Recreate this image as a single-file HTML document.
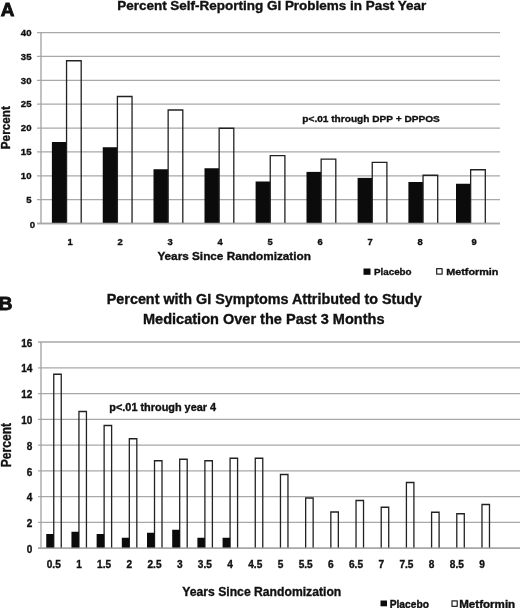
<!DOCTYPE html>
<html><head><meta charset="utf-8"><title>GI problems chart</title>
<style>
html,body{margin:0;padding:0;background:#fff;}
body{width:520px;height:608px;overflow:hidden;}
svg{display:block;}
text{font-family:'Liberation Sans', Arial, sans-serif;font-weight:bold;fill:#111;stroke:#111;stroke-width:0.35px;}
</style></head><body>
<svg width="520" height="608" viewBox="0 0 520 608">
<rect x="0" y="0" width="520" height="608" fill="#fff"/>
<line x1="37.00" y1="223.50" x2="500.00" y2="223.50" stroke="#a8a8a8" stroke-width="1.3"/>
<line x1="37.00" y1="199.64" x2="500.00" y2="199.64" stroke="#a8a8a8" stroke-width="1.3"/>
<line x1="37.00" y1="175.78" x2="500.00" y2="175.78" stroke="#a8a8a8" stroke-width="1.3"/>
<line x1="37.00" y1="151.91" x2="500.00" y2="151.91" stroke="#a8a8a8" stroke-width="1.3"/>
<line x1="37.00" y1="128.05" x2="500.00" y2="128.05" stroke="#a8a8a8" stroke-width="1.3"/>
<line x1="37.00" y1="104.19" x2="500.00" y2="104.19" stroke="#a8a8a8" stroke-width="1.3"/>
<line x1="37.00" y1="80.32" x2="500.00" y2="80.32" stroke="#a8a8a8" stroke-width="1.3"/>
<line x1="37.00" y1="56.46" x2="500.00" y2="56.46" stroke="#a8a8a8" stroke-width="1.3"/>
<line x1="37.00" y1="32.60" x2="500.00" y2="32.60" stroke="#a8a8a8" stroke-width="1.3"/>
<line x1="41.00" y1="32.60" x2="41.00" y2="223.50" stroke="#a0a0a0" stroke-width="1.3"/>
<text x="35.20" y="228.00" font-size="9.6" text-anchor="end">0</text>
<text x="31.50" y="202.84" font-size="9.6" text-anchor="end">5</text>
<text x="31.50" y="178.97" font-size="9.6" text-anchor="end">10</text>
<text x="31.50" y="155.11" font-size="9.6" text-anchor="end">15</text>
<text x="31.50" y="131.25" font-size="9.6" text-anchor="end">20</text>
<text x="31.50" y="107.39" font-size="9.6" text-anchor="end">25</text>
<text x="31.50" y="83.52" font-size="9.6" text-anchor="end">30</text>
<text x="31.50" y="59.66" font-size="9.6" text-anchor="end">35</text>
<text x="31.50" y="35.80" font-size="9.6" text-anchor="end">40</text>
<rect x="51.90" y="142.00" width="14.65" height="81.50" fill="#0b0b0b"/>
<path d="M66.55 223.50V60.75H81.20V223.50" fill="none" stroke="#222" stroke-width="1.3"/>
<rect x="102.75" y="147.25" width="14.65" height="76.25" fill="#0b0b0b"/>
<path d="M117.40 223.50V96.50H132.05V223.50" fill="none" stroke="#222" stroke-width="1.3"/>
<rect x="153.50" y="169.25" width="14.65" height="54.25" fill="#0b0b0b"/>
<path d="M168.15 223.50V110.00H182.80V223.50" fill="none" stroke="#222" stroke-width="1.3"/>
<rect x="204.50" y="168.25" width="14.65" height="55.25" fill="#0b0b0b"/>
<path d="M219.15 223.50V128.25H233.80V223.50" fill="none" stroke="#222" stroke-width="1.3"/>
<rect x="255.60" y="181.50" width="14.65" height="42.00" fill="#0b0b0b"/>
<path d="M270.25 223.50V155.70H284.90V223.50" fill="none" stroke="#222" stroke-width="1.3"/>
<rect x="306.50" y="171.90" width="14.65" height="51.60" fill="#0b0b0b"/>
<path d="M321.15 223.50V159.20H335.80V223.50" fill="none" stroke="#222" stroke-width="1.3"/>
<rect x="357.60" y="177.90" width="14.65" height="45.60" fill="#0b0b0b"/>
<path d="M372.25 223.50V162.40H386.90V223.50" fill="none" stroke="#222" stroke-width="1.3"/>
<rect x="408.40" y="182.00" width="14.65" height="41.50" fill="#0b0b0b"/>
<path d="M423.05 223.50V175.25H437.70V223.50" fill="none" stroke="#222" stroke-width="1.3"/>
<rect x="456.00" y="183.75" width="14.65" height="39.75" fill="#0b0b0b"/>
<path d="M470.65 223.50V169.75H485.30V223.50" fill="none" stroke="#222" stroke-width="1.3"/>
<line x1="37.00" y1="223.50" x2="500.00" y2="223.50" stroke="#a8a8a8" stroke-width="1.3"/>
<text x="70.00" y="244.60" font-size="9.4" text-anchor="middle">1</text>
<text x="120.00" y="244.60" font-size="9.4" text-anchor="middle">2</text>
<text x="170.00" y="244.60" font-size="9.4" text-anchor="middle">3</text>
<text x="220.00" y="244.60" font-size="9.4" text-anchor="middle">4</text>
<text x="270.00" y="244.60" font-size="9.4" text-anchor="middle">5</text>
<text x="320.00" y="244.60" font-size="9.4" text-anchor="middle">6</text>
<text x="370.00" y="244.60" font-size="9.4" text-anchor="middle">7</text>
<text x="420.00" y="244.60" font-size="9.4" text-anchor="middle">8</text>
<text x="474.00" y="244.60" font-size="9.4" text-anchor="middle">9</text>
<text x="0.70" y="16.30" font-size="18.9" text-anchor="start" style="stroke-width:0.9px">A</text>
<text x="117.20" y="10.30" font-size="12.6" text-anchor="start" textLength="309.00" lengthAdjust="spacingAndGlyphs">Percent Self-Reporting GI Problems in Past Year</text>
<text x="157.40" y="259.90" font-size="11.7" text-anchor="start" textLength="153.50" lengthAdjust="spacingAndGlyphs">Years Since Randomization</text>
<text transform="translate(9.7,127.7) rotate(-90)" font-size="12.4" text-anchor="middle" textLength="43" lengthAdjust="spacingAndGlyphs">Percent</text>
<text x="302.30" y="121.90" font-size="9.6" text-anchor="start" textLength="137.50" lengthAdjust="spacingAndGlyphs">p&lt;.01 through DPP + DPPOS</text>
<rect x="363.50" y="268.50" width="7.00" height="6.30" fill="#0b0b0b"/>
<text x="374.00" y="274.75" font-size="9.8" text-anchor="start" textLength="37.60" lengthAdjust="spacingAndGlyphs">Placebo</text>
<rect x="436.70" y="268.70" width="5.40" height="5.40" fill="#fff" stroke="#0b0b0b" stroke-width="1.1"/>
<text x="446.20" y="274.50" font-size="9.8" text-anchor="start" textLength="52.30" lengthAdjust="spacingAndGlyphs">Metformin</text>
<line x1="38.00" y1="548.25" x2="520.00" y2="548.25" stroke="#a8a8a8" stroke-width="1.3"/>
<line x1="38.00" y1="522.47" x2="520.00" y2="522.47" stroke="#a8a8a8" stroke-width="1.3"/>
<line x1="38.00" y1="496.69" x2="520.00" y2="496.69" stroke="#a8a8a8" stroke-width="1.3"/>
<line x1="38.00" y1="470.91" x2="520.00" y2="470.91" stroke="#a8a8a8" stroke-width="1.3"/>
<line x1="38.00" y1="445.12" x2="520.00" y2="445.12" stroke="#a8a8a8" stroke-width="1.3"/>
<line x1="38.00" y1="419.34" x2="520.00" y2="419.34" stroke="#a8a8a8" stroke-width="1.3"/>
<line x1="38.00" y1="393.56" x2="520.00" y2="393.56" stroke="#a8a8a8" stroke-width="1.3"/>
<line x1="38.00" y1="367.78" x2="520.00" y2="367.78" stroke="#a8a8a8" stroke-width="1.3"/>
<line x1="38.00" y1="342.00" x2="520.00" y2="342.00" stroke="#a8a8a8" stroke-width="1.3"/>
<line x1="41.00" y1="342.00" x2="41.00" y2="548.25" stroke="#a0a0a0" stroke-width="1.3"/>
<text x="32.40" y="552.85" font-size="10" text-anchor="end">0</text>
<text x="32.40" y="527.07" font-size="10" text-anchor="end">2</text>
<text x="32.40" y="501.29" font-size="10" text-anchor="end">4</text>
<text x="32.40" y="475.51" font-size="10" text-anchor="end">6</text>
<text x="32.40" y="449.73" font-size="10" text-anchor="end">8</text>
<text x="32.40" y="423.94" font-size="10" text-anchor="end">10</text>
<text x="32.40" y="398.16" font-size="10" text-anchor="end">12</text>
<text x="32.40" y="372.38" font-size="10" text-anchor="end">14</text>
<text x="32.40" y="346.60" font-size="10" text-anchor="end">16</text>
<path d="M53.75 548.25V374.25H61.25V548.25" fill="none" stroke="#222" stroke-width="1.3"/>
<rect x="46.25" y="534.00" width="7.50" height="14.25" fill="#0b0b0b"/>
<text x="53.75" y="568.40" font-size="10.1" text-anchor="middle">0.5</text>
<path d="M78.94 548.25V411.50H86.44V548.25" fill="none" stroke="#222" stroke-width="1.3"/>
<rect x="71.44" y="531.75" width="7.50" height="16.50" fill="#0b0b0b"/>
<text x="78.94" y="568.40" font-size="10.1" text-anchor="middle">1</text>
<path d="M104.13 548.25V425.50H111.63V548.25" fill="none" stroke="#222" stroke-width="1.3"/>
<rect x="96.63" y="534.00" width="7.50" height="14.25" fill="#0b0b0b"/>
<text x="104.13" y="568.40" font-size="10.1" text-anchor="middle">1.5</text>
<path d="M129.32 548.25V438.75H136.82V548.25" fill="none" stroke="#222" stroke-width="1.3"/>
<rect x="121.82" y="537.75" width="7.50" height="10.50" fill="#0b0b0b"/>
<text x="129.32" y="568.40" font-size="10.1" text-anchor="middle">2</text>
<path d="M154.51 548.25V460.75H162.01V548.25" fill="none" stroke="#222" stroke-width="1.3"/>
<rect x="147.01" y="532.75" width="7.50" height="15.50" fill="#0b0b0b"/>
<text x="154.51" y="568.40" font-size="10.1" text-anchor="middle">2.5</text>
<path d="M179.70 548.25V459.25H187.20V548.25" fill="none" stroke="#222" stroke-width="1.3"/>
<rect x="172.20" y="529.75" width="7.50" height="18.50" fill="#0b0b0b"/>
<text x="179.70" y="568.40" font-size="10.1" text-anchor="middle">3</text>
<path d="M204.89 548.25V460.75H212.39V548.25" fill="none" stroke="#222" stroke-width="1.3"/>
<rect x="197.39" y="537.75" width="7.50" height="10.50" fill="#0b0b0b"/>
<text x="204.89" y="568.40" font-size="10.1" text-anchor="middle">3.5</text>
<path d="M230.08 548.25V458.25H237.58V548.25" fill="none" stroke="#222" stroke-width="1.3"/>
<rect x="222.58" y="537.75" width="7.50" height="10.50" fill="#0b0b0b"/>
<text x="230.08" y="568.40" font-size="10.1" text-anchor="middle">4</text>
<path d="M255.27 548.25V458.25H262.77V548.25" fill="none" stroke="#222" stroke-width="1.3"/>
<text x="255.27" y="568.40" font-size="10.1" text-anchor="middle">4.5</text>
<path d="M280.46 548.25V474.50H287.96V548.25" fill="none" stroke="#222" stroke-width="1.3"/>
<text x="280.46" y="568.40" font-size="10.1" text-anchor="middle">5</text>
<path d="M305.65 548.25V498.00H313.15V548.25" fill="none" stroke="#222" stroke-width="1.3"/>
<text x="305.65" y="568.40" font-size="10.1" text-anchor="middle">5.5</text>
<path d="M330.84 548.25V512.00H338.34V548.25" fill="none" stroke="#222" stroke-width="1.3"/>
<text x="330.84" y="568.40" font-size="10.1" text-anchor="middle">6</text>
<path d="M356.03 548.25V500.50H363.53V548.25" fill="none" stroke="#222" stroke-width="1.3"/>
<text x="356.03" y="568.40" font-size="10.1" text-anchor="middle">6.5</text>
<path d="M381.22 548.25V507.25H388.72V548.25" fill="none" stroke="#222" stroke-width="1.3"/>
<text x="381.22" y="568.40" font-size="10.1" text-anchor="middle">7</text>
<path d="M406.41 548.25V482.50H413.91V548.25" fill="none" stroke="#222" stroke-width="1.3"/>
<text x="406.41" y="568.40" font-size="10.1" text-anchor="middle">7.5</text>
<path d="M431.60 548.25V512.25H439.10V548.25" fill="none" stroke="#222" stroke-width="1.3"/>
<text x="431.60" y="568.40" font-size="10.1" text-anchor="middle">8</text>
<path d="M456.79 548.25V513.75H464.29V548.25" fill="none" stroke="#222" stroke-width="1.3"/>
<text x="456.79" y="568.40" font-size="10.1" text-anchor="middle">8.5</text>
<path d="M481.98 548.25V504.50H489.48V548.25" fill="none" stroke="#222" stroke-width="1.3"/>
<text x="481.98" y="568.40" font-size="10.1" text-anchor="middle">9</text>
<line x1="38.00" y1="548.25" x2="520.00" y2="548.25" stroke="#a8a8a8" stroke-width="1.3"/>
<text x="-1.20" y="309.60" font-size="18.9" text-anchor="start" style="stroke-width:0.9px">B</text>
<text x="106.80" y="303.80" font-size="14" text-anchor="start" textLength="315.00" lengthAdjust="spacingAndGlyphs">Percent with GI Symptoms Attributed to Study</text>
<text x="143.00" y="323.80" font-size="14" text-anchor="start" textLength="241.50" lengthAdjust="spacingAndGlyphs">Medication Over the Past 3 Months</text>
<text transform="translate(11.0,445.1) rotate(-90)" font-size="14" text-anchor="middle" textLength="44.5" lengthAdjust="spacingAndGlyphs">Percent</text>
<text x="109.30" y="410.50" font-size="10.1" text-anchor="start" textLength="106.80" lengthAdjust="spacingAndGlyphs">p&lt;.01 through year 4</text>
<text x="182.30" y="595.50" font-size="12.9" text-anchor="start" textLength="159.00" lengthAdjust="spacingAndGlyphs">Years Since Randomization</text>
<rect x="380.50" y="600.50" width="6.50" height="5.80" fill="#0b0b0b"/>
<text x="389.70" y="607.60" font-size="10.4" text-anchor="start" textLength="39.30" lengthAdjust="spacingAndGlyphs">Placebo</text>
<rect x="452.00" y="600.90" width="5.20" height="5.40" fill="#fff" stroke="#0b0b0b" stroke-width="1.1"/>
<text x="459.20" y="607.60" font-size="10.4" text-anchor="start" textLength="56.00" lengthAdjust="spacingAndGlyphs">Metformin</text>
</svg>
</body></html>
